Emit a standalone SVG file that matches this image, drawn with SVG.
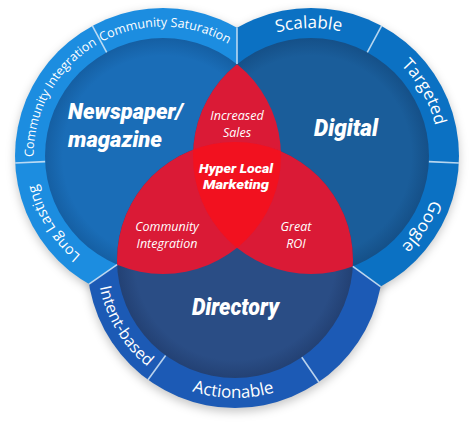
<svg xmlns="http://www.w3.org/2000/svg" width="474" height="430" viewBox="0 0 474 430">
  <defs>
    <style>
      .ring-txt { font-family: "Open Sans", "Liberation Sans", sans-serif; fill: #ffffff; }
      .main { font-family: Roboto, "Liberation Sans", sans-serif; font-weight: 900; font-style: italic; fill: #ffffff; }
      .lens-txt { font-family: "Open Sans", "Liberation Sans", sans-serif; font-style: italic; font-size: 12.5px; fill: #ffffff; text-anchor: middle; }
      .div { stroke: #d6e8f7; stroke-width: 1.6; stroke-opacity: 0.85; fill: none; }
      .lens { fill: #da1a36; }
    </style>
    <filter id="shadow" x="-20%" y="-20%" width="140%" height="140%">
      <feGaussianBlur stdDeviation="5"/>
    </filter>
    <radialGradient id="gL" cx="0.5" cy="0.5" r="0.5">
      <stop offset="0.85" stop-color="#1a6db7"/>
      <stop offset="1" stop-color="#155fa3"/>
    </radialGradient>
    <radialGradient id="gR" cx="0.5" cy="0.5" r="0.5">
      <stop offset="0.85" stop-color="#1a5d9a"/>
      <stop offset="1" stop-color="#155088"/>
    </radialGradient>
    <radialGradient id="gB" cx="0.5" cy="0.5" r="0.5">
      <stop offset="0.85" stop-color="#2a4d85"/>
      <stop offset="1" stop-color="#234174"/>
    </radialGradient>
    <clipPath id="cellL"><polygon points="237,181.7 237,-10 -10,-10 -10,352.7"/></clipPath>
    <clipPath id="cellR"><polygon points="237,181.7 237,-10 484,-10 484,362.2"/></clipPath>
    <clipPath id="cellB"><polygon points="237,181.7 -10,352.7 -10,440 484,440 484,362.2"/></clipPath>
    <clipPath id="inL"><circle cx="163" cy="156" r="118"/></clipPath>
    <clipPath id="inR"><circle cx="311" cy="156" r="118"/></clipPath>
    <clipPath id="inB"><circle cx="235" cy="260" r="118"/></clipPath>
    <path id="pSat" d="M65.27,71.04 A129.5,129.5 0 0 1 263.64,74.50"/>
    <path id="pInt" d="M41.70,201.35 A129.5,129.5 0 0 1 139.40,28.66"/>
    <path id="pLong" d="M132.89,281.44 A129,129 0 0 1 37.56,125.89"/>
    <path id="pScal" d="M218.93,67.08 A128,128 0 0 1 399.92,63.93"/>
    <path id="pTarg" d="M345.20,32.66 A128,128 0 0 1 434.34,190.20"/>
    <path id="pGoog" d="M435.97,128.30 A128,128 0 0 1 338.70,280.97"/>
    <path id="pIntent" d="M101.10,226.62 A138,138 0 0 0 201.62,393.90"/>
    <path id="pAct" d="M136.15,356.30 A138,138 0 0 0 331.30,358.85"/>
  </defs>

  <g id="shadow-layer" filter="url(#shadow)" fill="#000000" fill-opacity="0.22">
    <circle cx="163" cy="159" r="148"/>
    <circle cx="311" cy="159" r="148"/>
    <circle cx="235" cy="264" r="148"/>
  </g>

  <g id="newspaper">
    <circle cx="163" cy="156" r="148" fill="#1c8de0" clip-path="url(#cellL)"/>
    <circle cx="163" cy="156" r="118" fill="url(#gL)"/>
  </g>
  <g id="digital">
    <circle cx="311" cy="156" r="148" fill="#0b71c3" clip-path="url(#cellR)"/>
    <circle cx="311" cy="156" r="118" fill="url(#gR)"/>
  </g>
  <g id="directory">
    <circle cx="235" cy="260" r="148" fill="#1c5ab5" clip-path="url(#cellB)"/>
    <circle cx="235" cy="260" r="118" fill="url(#gB)"/>
  </g>

  <g id="increased-sales">
    <circle class="lens" cx="163" cy="156" r="118" clip-path="url(#inR)"/>
  </g>
  <g id="community-integration">
    <circle class="lens" cx="163" cy="156" r="118" clip-path="url(#inB)"/>
  </g>
  <g id="great-roi">
    <circle class="lens" cx="311" cy="156" r="118" clip-path="url(#inB)"/>
  </g>
  <g id="hyper-local">
    <g clip-path="url(#inB)">
      <circle cx="163" cy="156" r="118" fill="#f2111f" clip-path="url(#inR)"/>
    </g>
  </g>

  <g id="connectors">
    <line class="div" x1="237" y1="27.8" x2="237" y2="64.1"/>
    <line class="div" x1="89" y1="284.2" x2="117.1" y2="264.7"/>
    <line class="div" x1="380.6" y1="286.6" x2="352.8" y2="266.4"/>
    <line class="div" x1="106.7" y1="52.3" x2="92.4" y2="25.9"/>
    <line class="div" x1="45.1" y1="161.6" x2="15.2" y2="163.0"/>
    <line class="div" x1="367.3" y1="52.3" x2="381.6" y2="25.9"/>
    <line class="div" x1="428.9" y1="161.6" x2="458.8" y2="163.0"/>
    <line class="div" x1="165.6" y1="355.5" x2="148.0" y2="379.7"/>
    <line class="div" x1="301.8" y1="357.2" x2="318.8" y2="382.0"/>
  </g>

  <g id="ring-labels">
    <text class="ring-txt" font-size="12.5"><textPath href="#pSat" startOffset="50%" text-anchor="middle">Community Saturation</textPath></text>
    <text class="ring-txt" font-size="12.5"><textPath href="#pInt" startOffset="50%" text-anchor="middle">Community Integration</textPath></text>
    <text class="ring-txt" font-size="14.5"><textPath href="#pLong" startOffset="50%" text-anchor="middle">Long Lasting</textPath></text>
    <text class="ring-txt" font-size="17"><textPath href="#pScal" startOffset="50%" text-anchor="middle">Scalable</textPath></text>
    <text class="ring-txt" font-size="17"><textPath href="#pTarg" startOffset="50%" text-anchor="middle">Targeted</textPath></text>
    <text class="ring-txt" font-size="17"><textPath href="#pGoog" startOffset="50%" text-anchor="middle">Google</textPath></text>
    <text class="ring-txt" font-size="16"><textPath href="#pIntent" startOffset="50%" text-anchor="middle">Intent-based</textPath></text>
    <text class="ring-txt" font-size="17"><textPath href="#pAct" startOffset="50%" text-anchor="middle">Actionable</textPath></text>
  </g>

  <g id="main-labels">
    <text class="main" x="68" y="119" font-size="22" textLength="115" lengthAdjust="spacingAndGlyphs">Newspaper/</text>
    <text class="main" x="68" y="147" font-size="22" textLength="94" lengthAdjust="spacingAndGlyphs">magazine</text>
    <text class="main" x="314" y="136" font-size="24" textLength="64" lengthAdjust="spacingAndGlyphs">Digital</text>
    <text class="main" x="192" y="315" font-size="23" textLength="87" lengthAdjust="spacingAndGlyphs">Directory</text>
    <text class="main" x="199" y="172.5" font-size="13.5" textLength="74" lengthAdjust="spacingAndGlyphs">Hyper Local</text>
    <text class="main" x="203" y="189" font-size="13.5" textLength="66" lengthAdjust="spacingAndGlyphs">Marketing</text>
  </g>

  <g id="lens-labels">
    <text class="lens-txt" x="237" y="119.5">Increased</text>
    <text class="lens-txt" x="237" y="136.5">Sales</text>
    <text class="lens-txt" x="167" y="231">Community</text>
    <text class="lens-txt" x="167" y="248">Integration</text>
    <text class="lens-txt" x="296" y="231">Great</text>
    <text class="lens-txt" x="296" y="248">ROI</text>
  </g>
</svg>
